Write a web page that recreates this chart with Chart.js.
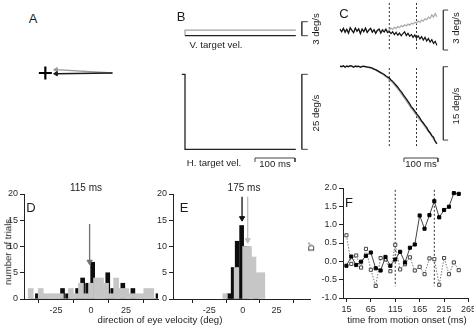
<!DOCTYPE html>
<html>
<head>
<meta charset="utf-8">
<script src="https://cdn.jsdelivr.net/npm/chart.js@4.4.0/dist/chart.umd.min.js"></script>
<style>
  html, body { margin: 0; padding: 0; background: #fff; }
  body { width: 474px; height: 326px; position: relative; overflow: hidden;
         font-family: "Liberation Sans", Arial, sans-serif; color: #1c1c1c; }
  canvas { position: absolute; }
  .t { position: absolute; font-size: 9.6px; line-height: 1; white-space: nowrap;
       transform: translate(-50%, -50%); }
  .rot { transform: translate(-50%, -50%) rotate(-90deg); }
  .big { font-size: 13px; }
</style>
</head>
<body>
<canvas id="panelA" width="120" height="66" style="left:20px;top:40px"></canvas>
<canvas id="panelB" width="170" height="170" style="left:160px;top:0px"></canvas>
<canvas id="panelC" width="144" height="170" style="left:330px;top:0px"></canvas>
<canvas id="histD" width="165" height="146" style="left:0px;top:180px"></canvas>
<canvas id="histE" width="165" height="146" style="left:150px;top:180px"></canvas>
<canvas id="dprime" width="184" height="146" style="left:290px;top:180px"></canvas>

<div class="t big" style="left:33px;top:18px">A</div>
<div class="t big" style="left:181px;top:16px">B</div>
<div class="t big" style="left:344px;top:13px">C</div>
<div class="t" style="left:216px;top:45px">V. target vel.</div>
<div class="t" style="left:214px;top:163px">H. target vel.</div>
<div class="t" style="left:275px;top:164px">100 ms</div>
<div class="t" style="left:421px;top:164px">100 ms</div>
<div class="t rot" style="left:316px;top:29px">3 deg/s</div>
<div class="t rot" style="left:316px;top:113px">25 deg/s</div>
<div class="t rot" style="left:456px;top:28px">3 deg/s</div>
<div class="t rot" style="left:456px;top:106px">15 deg/s</div>

<div class="t" style="left:86px;top:188px;font-size:10px">115 ms</div>
<div class="t" style="left:244px;top:188px;font-size:10px">175 ms</div>
<div class="t big" style="left:31px;top:207px">D</div>
<div class="t big" style="left:184px;top:207px">E</div>
<div class="t big" style="left:349px;top:202px">F</div>
<div class="t rot" style="left:8px;top:252px">number of trials</div>
<div class="t" style="left:160px;top:320px">direction of eye velocity (deg)</div>
<div class="t rot" style="left:311px;top:247px">D'</div>
<div class="t" style="left:407px;top:320px">time from motion onset (ms)</div>

<script>
// A: eye velocity direction vectors (tail at origin) and fixation cross
const crossA = { x: -1.19, y: 0 };
const grayTipA = { x: -1, y: 0.068 };
const blackTipA = { x: -1, y: -0.015 };

// B: target velocity (deg/s) against time from motion onset (ms)
const tH = [-8, 0, 0, 277];
const hTarget = [0, 0, -25, -25];
const tV = [0, 0, 277];
const vTargetGray = [0, 1.2, 1.2];
const vTargetBlack = [0, 0, 0];

// C: eye velocity traces (deg/s), sampled every 5 ms
const tEye = [-30, -25, -20, -15, -10, -5, 0, 5, 10, 15, 20, 25, 30, 35, 40, 45, 50, 55, 60, 65,
  70, 75, 80, 85, 90, 95, 100, 105, 110, 115, 120, 125, 130, 135, 140, 145, 150, 155, 160, 165,
  170, 175, 180, 185, 190, 195, 200, 205, 210, 215, 220, 225, 230, 235, 240, 245, 250, 255];
const vEyeBlack = [0.12, -0.08, 0.18, -0.12, 0.1, -0.2, 0.22, 0.02, -0.16, 0.2, -0.05, 0.14, -0.22, 0.12, -0.08,
  0.2, -0.14, 0.04, 0.18, -0.12, 0.08, -0.2, 0.02, 0.12, -0.18, 0.05, -0.1, 0.1, -0.15,
  -0.05, -0.22, -0.08, -0.3, -0.12, -0.34, -0.18, -0.38, -0.22, -0.08, -0.36, -0.2, -0.42, -0.28, -0.5,
  -0.32, -0.55, -0.38, -0.62, -0.45, -0.7, -0.5, -0.78, -0.58, -0.86, -0.68, -0.95, -0.8, -1.1];
const vEyeGray = [0.08, -0.05, 0.14, -0.06, 0.12, -0.14, 0.18, 0.06, -0.1, 0.16, 0.0, 0.1, -0.16, 0.14, -0.04,
  0.16, -0.1, 0.08, 0.14, -0.06, 0.06, -0.14, 0.06, 0.14, -0.1, 0.1, 0.0, 0.16, -0.04,
  0.06, 0.2, 0.1, 0.26, 0.16, 0.32, 0.22, 0.38, 0.3, 0.44, 0.36, 0.5, 0.42, 0.56, 0.5,
  0.64, 0.56, 0.72, 0.62, 0.8, 0.72, 0.9, 0.82, 1.02, 0.92, 1.18, 1.02, 1.28, 1.05];
const hEyeBlack = [0.1, 0.0, 0.2, -0.1, 0.1, 0.0, 0.2, 0.1, -0.1, 0.1, 0.0, 0.1, -0.1, 0.0, 0.1,
  0.0, -0.1, -0.1, -0.2, -0.3, -0.5, -0.6, -0.8, -1.0, -1.2, -1.4, -1.6, -1.9, -2.1,
  -2.3, -2.7, -3.0, -3.4, -3.8, -4.2, -4.7, -5.1, -5.6, -6.1, -6.6, -7.1, -7.6, -8.2, -8.6,
  -9.1, -9.6, -10.0, -10.5, -11.1, -11.5, -12.0, -12.4, -13.1, -13.5, -14.1, -14.4, -15.3, -15.8];
const hEyeGray = [0.0, 0.1, 0.1, 0.0, 0.2, 0.1, 0.1, 0.0, 0.0, 0.2, 0.1, 0.0, 0.0, 0.1, 0.0,
  -0.1, -0.1, -0.2, -0.3, -0.4, -0.5, -0.7, -0.9, -1.1, -1.3, -1.5, -1.8, -2.0, -2.3,
  -2.6, -2.9, -3.3, -3.7, -4.1, -4.6, -5.0, -5.5, -6.0, -6.5, -7.0, -7.5, -8.0, -8.5, -9.0,
  -9.5, -9.9, -10.4, -10.9, -11.3, -11.8, -12.3, -12.8, -13.2, -13.7, -14.2, -14.8, -15.2, -15.6];
const analysisTimes = [115, 195];

// D: direction histogram 115 ms after onset
const binsD = [-43.2, -39.6, -36, -32.4, -28.8, -25.2, -21.6, -18, -14.4, -10.8, -7.2, -3.6, 0,
  3.6, 7.2, 10.8, 14.4, 18, 21.6, 25.2, 28.8, 32.4, 36, 39.6, 43.2, 46.8];
const grayD  = [2, 0, 2, 1, 1, 1, 1, 0, 2, 1, 3, 1, 3, 4, 4, 3, 1, 4, 2, 2, 1, 1, 1, 2, 2, 0];
const blackD = [0, 1, 0, 0, 0, 0, 2, 1, 0, 2, 4, 3, 7, 0, 0, 5, 2, 0, 3, 0, 2, 0, 0, 0, 0, 1];
const meanD = { dir: -1, from: 14.3, to: 7.1 };

// E: direction histogram 175 ms after onset
const grayDirE  = [-13.2, -4.8, 1.5, 4.8, 8.1, 11.4, 14.7];
const grayE     = [1, 6, 10, 10, 8, 5, 5];
const blackDirE = [-10.2, -7.2, -4.2, -0.9, 2.7, 9.6];
const blackE    = [1, 6, 11, 14, 10, 2];
const meanBlackE = { dir: -0.6, from: 19.5, to: 15.4 };
const meanGrayE  = { dir: 3.6, from: 19.5, to: 11.2 };

// F: D' over time
const timesF = [15, 25, 35, 45, 55, 65, 75, 85, 95, 105, 115, 125, 135, 145, 155, 165, 175, 185,
  195, 205, 215, 225, 235, 245];
const dFilled = [-0.12, 0.13, -0.1, -0.01, 0.15, 0.24, -0.19, -0.25, 0.12, -0.12, 0.05, 0.26,
  -0.03, 0.37, 0.46, 1.25, 0.89, 1.26, 1.64, 1.2, 1.4, 1.49, 1.86, 1.84];
const dOpen = [0.71, -0.07, 0.16, -0.17, 0.34, -0.23, -0.67, 0.09, 0.05, -0.27, 0.45, -0.22,
  -0.08, 0.11, -0.25, -0.15, -0.35, 0.08, 0.06, -0.64, 0.09, -0.35, -0.03, -0.24];

const dirTicks = [-25, 0, 25];
const countTicks = [0, 5, 10, 15, 20];
const timeTicksF = [15, 65, 115, 165, 215, 265];
const dTicksF = [-1, -0.5, 0, 0.5, 1, 1.5, 2];

Chart.defaults.font.family = '"Liberation Sans", Arial, sans-serif';
Chart.defaults.animation = false;
Chart.defaults.responsive = false;
Chart.defaults.plugins.legend.display = false;
Chart.defaults.plugins.tooltip.enabled = false;

const ink = '#222';
const pts = (xs, ys) => xs.map((x, i) => ({ x, y: ys[i] }));
const hidden = (min, max, extra = {}) => Object.assign({ type: 'linear', display: false, min, max }, extra);

function trace(data, color, width, extra = {}) {
  return Object.assign({ data, showLine: true, borderColor: color, borderWidth: width,
    pointRadius: 0, fill: false, tension: 0 }, extra);
}

function arrowHead(data, color, width, rotation, size = 3) {
  return trace(data, color, width, {
    pointRadius: [0, size], pointStyle: 'triangle', pointRotation: rotation,
    pointBackgroundColor: color, pointBorderColor: color, pointBorderWidth: 1
  });
}

function fixedAxis(ticks, size, horizontal, fmt) {
  return {
    type: 'linear',
    offset: false,
    grid: { display: true, drawOnChartArea: false, drawTicks: true, tickLength: 4, color: ink },
    border: { display: true, color: ink, width: 1 },
    ticks: { color: '#2a2a2a', font: { size: 9 }, padding: 2, autoSkip: false, maxRotation: 0,
      callback: fmt || ((v) => v) },
    afterBuildTicks: (axis) => { axis.ticks = ticks.map((v) => ({ value: v })); },
    afterFit: (scale) => {
      if (horizontal) scale.height = size; else scale.width = size;
      scale.paddingLeft = 0; scale.paddingRight = 0; scale.paddingTop = 0; scale.paddingBottom = 0;
    }
  };
}

// Panel A
new Chart(document.getElementById('panelA'), {
  type: 'scatter',
  data: {
    datasets: [
      arrowHead([{ x: 0, y: 0 }, blackTipA], '#1a1a1a', 1.3, -90, 2.5),
      arrowHead([{ x: 0, y: 0 }, grayTipA], '#9a9a9a', 1.3, -94, 2.5),
      { data: [crossA], pointStyle: 'cross', pointRadius: 6.5, borderColor: '#000', borderWidth: 2.2 }
    ]
  },
  options: { layout: { padding: 0 }, scales: { x: hidden(-1.485, 0.333), y: hidden(-0.5, 0.5) } }
});

// Panel B: target velocity steps and scale bars
new Chart(document.getElementById('panelB'), {
  type: 'scatter',
  data: {
    datasets: [
      trace(pts(tV, vTargetBlack), '#222', 1.2, { yAxisID: 'yV' }),
      trace(pts(tV, vTargetGray), '#a0a0a0', 1.2, { yAxisID: 'yV' }),
      trace(pts(tH, hTarget), '#222', 1.3, { yAxisID: 'yH' }),
      trace([{ x: 307, y: 3 }, { x: 292, y: 3 }, { x: 292, y: 0 }, { x: 307, y: 0 }], '#444', 1, { yAxisID: 'yV' }),
      trace([{ x: 307, y: 0 }, { x: 292, y: 0 }, { x: 292, y: -25 }, { x: 307, y: -25 }], '#444', 1, { yAxisID: 'yH' }),
      trace([{ x: 175, y: -29.2 }, { x: 175, y: -27.9 }, { x: 275, y: -27.9 }, { x: 275, y: -29.2 }], '#444', 1, { yAxisID: 'yH' })
    ]
  },
  options: {
    layout: { padding: 0 },
    scales: { x: hidden(-62.5, 362.5), yV: hidden(-28.78, 7.65, { position: 'left' }), yH: hidden(-31.9, 24.77, { position: 'left' }) }
  }
});

// Panel C: eye velocity traces
const markerLines = [];
analysisTimes.forEach((t) => {
  markerLines.push(trace([{ x: t, y: 2.08 }, { x: t, y: -1.45 }], '#333', 1, { yAxisID: 'yVe', borderDash: [2, 2] }));
  markerLines.push(trace([{ x: t, y: -0.27 }, { x: t, y: -16.4 }], '#333', 1, { yAxisID: 'yHe', borderDash: [2, 2] }));
});
new Chart(document.getElementById('panelC'), {
  type: 'scatter',
  data: {
    datasets: [
      trace(pts(tEye, vEyeBlack), '#111', 1.2, { yAxisID: 'yVe' }),
      trace(pts(tEye, vEyeGray), '#a8a8a8', 1.2, { yAxisID: 'yVe' }),
      trace(pts(tEye, hEyeBlack), '#111', 1.3, { yAxisID: 'yHe' }),
      trace(pts(tEye, hEyeGray), '#a8a8a8', 1.3, { yAxisID: 'yHe' }),
      ...markerLines,
      trace([{ x: 288, y: 1.55 }, { x: 274, y: 1.55 }, { x: 274, y: -1.45 }, { x: 288, y: -1.45 }], '#444', 1, { yAxisID: 'yVe' }),
      trace([{ x: 288, y: 0 }, { x: 274, y: 0 }, { x: 274, y: -15 }, { x: 288, y: -15 }], '#444', 1, { yAxisID: 'yHe' }),
      trace([{ x: 158, y: -19.5 }, { x: 158, y: -18.67 }, { x: 258, y: -18.67 }, { x: 258, y: -19.5 }], '#444', 1, { yAxisID: 'yHe' })
    ]
  },
  options: {
    layout: { padding: 0 },
    scales: { x: hidden(-59.41, 364.12), yVe: hidden(-10.45, 2.303, { position: 'left' }), yHe: hidden(-21.12, 13.64, { position: 'left' }) }
  }
});

// Histograms D and E
function histogram(id, grayPts, blackPts, arrows, xMin, xMax, padRight, yWidth, grayW, blackW) {
  return new Chart(document.getElementById(id), {
    type: 'bar',
    data: {
      datasets: [
        ...arrows.map((a) => Object.assign(
          arrowHead([{ x: a.dir, y: a.from }, { x: a.dir, y: a.to }], a.color, 1.3, 180, 3),
          { type: 'line', order: 0 })),
        { data: grayPts, backgroundColor: '#c6c6c6', barThickness: grayW, order: 1 },
        { data: blackPts, backgroundColor: '#0d0d0d', barThickness: blackW, order: 2 }
      ]
    },
    options: {
      layout: { padding: { top: 14, right: padRight, bottom: 7, left: 0 } },
      datasets: { bar: { grouped: false } },
      scales: {
        x: Object.assign(fixedAxis(dirTicks, 20, true), { min: xMin, max: xMax }),
        y: Object.assign(fixedAxis(countTicks, yWidth, false), { min: 0, max: 20 })
      }
    }
  });
}

histogram('histD',
  pts(binsD, grayD),
  binsD.map((b, i) => ({ x: b + 1.2, y: blackD[i] })),
  [Object.assign({ color: '#707070' }, meanD)],
  -48, 48, 7, 24, 5, 4);

histogram('histE',
  pts(grayDirE, grayE),
  pts(blackDirE, blackE),
  [Object.assign({ color: '#111' }, meanBlackE), Object.assign({ color: '#bdbdbd' }, meanGrayE)],
  -52, 50, 5, 23, 4.5, 4);

// Panel F: D' against time
new Chart(document.getElementById('dprime'), {
  type: 'scatter',
  data: {
    datasets: [
      trace(pts(timesF, dFilled), '#444', 1, {
        order: 0, pointRadius: 2.2, pointStyle: 'rect',
        pointBackgroundColor: '#000', pointBorderColor: '#000', pointBorderWidth: 1
      }),
      trace(pts(timesF, dOpen), '#777', 1, {
        order: 1, borderDash: [1.5, 1.5], pointRadius: 2.2, pointStyle: 'rect',
        pointBackgroundColor: '#fff', pointBorderColor: '#444', pointBorderWidth: 1
      }),
      ...analysisTimes.map((t) => trace([{ x: t, y: 1.95 }, { x: t, y: -0.68 }], '#333', 1,
        { order: 2, borderDash: [2, 2] }))
    ]
  },
  options: {
    layout: { padding: { top: 8, right: 5.5, bottom: 0, left: 0 } },
    scales: {
      x: Object.assign(fixedAxis(timeTicksF, 28, true), { min: 8, max: 265 }),
      y: Object.assign(fixedAxis(dTicksF, 53, false, (v) => v.toFixed(1)), { min: -1, max: 2 })
    }
  }
});
</script>
</body>
</html>
